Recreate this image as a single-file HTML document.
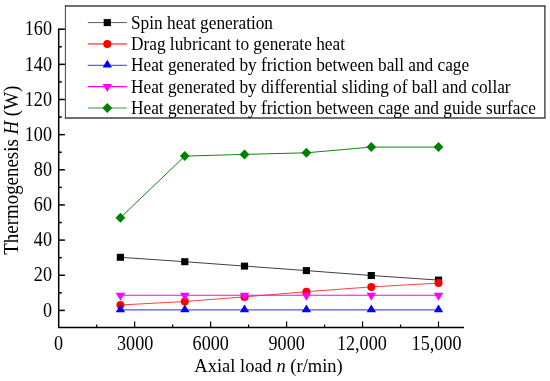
<!DOCTYPE html>
<html><head><meta charset="utf-8"><title>Chart</title>
<style>
html,body{margin:0;padding:0;background:#fff;}
svg{display:block;}
text{font-family:"Liberation Serif","Times New Roman",serif;fill:#000;}
.t{font-size:18.15px;}
.l{font-size:17.3px;}
.y{font-size:18.9px;}
.x{font-size:18.5px;}
</style></head><body>
<svg width="550" height="381" viewBox="0 0 550 381">
<rect width="550" height="381" fill="#fff"/>

<g stroke="#000" stroke-width="1.5" fill="none">
<path d="M58.7,28.45 V327.6 H464"/>
<path d="M58.7,310.40 h6.2"/>
<path d="M58.7,275.25 h6.2"/>
<path d="M58.7,240.10 h6.2"/>
<path d="M58.7,204.95 h6.2"/>
<path d="M58.7,169.80 h6.2"/>
<path d="M58.7,134.65 h6.2"/>
<path d="M58.7,99.50 h6.2"/>
<path d="M58.7,64.35 h6.2"/>
<path d="M58.7,29.20 h6.2"/>
<path d="M58.7,292.82 h3.1"/>
<path d="M58.7,257.67 h3.1"/>
<path d="M58.7,222.52 h3.1"/>
<path d="M58.7,187.38 h3.1"/>
<path d="M58.7,152.22 h3.1"/>
<path d="M58.7,117.07 h3.1"/>
<path d="M58.7,81.93 h3.1"/>
<path d="M58.7,46.77 h3.1"/>
<path d="M134.66,327.6 v-6.1" stroke-width="1.2"/>
<path d="M210.62,327.6 v-6.1" stroke-width="1.2"/>
<path d="M286.58,327.6 v-6.1" stroke-width="1.2"/>
<path d="M362.54,327.6 v-6.1" stroke-width="1.2"/>
<path d="M438.50,327.6 v-6.1" stroke-width="1.2"/>
<path d="M96.68,327.6 v-3.1" stroke-width="1.2"/>
<path d="M172.64,327.6 v-3.1" stroke-width="1.2"/>
<path d="M248.60,327.6 v-3.1" stroke-width="1.2"/>
<path d="M324.56,327.6 v-3.1" stroke-width="1.2"/>
<path d="M400.52,327.6 v-3.1" stroke-width="1.2"/>
</g>
<text class="t" transform="translate(52.00,316.60) scale(1,1.115)" text-anchor="end">0</text>
<text class="t" transform="translate(52.00,281.45) scale(1,1.115)" text-anchor="end">20</text>
<text class="t" transform="translate(52.00,246.30) scale(1,1.115)" text-anchor="end">40</text>
<text class="t" transform="translate(52.00,211.15) scale(1,1.115)" text-anchor="end">60</text>
<text class="t" transform="translate(52.00,176.00) scale(1,1.115)" text-anchor="end">80</text>
<text class="t" transform="translate(52.00,140.85) scale(1,1.115)" text-anchor="end">100</text>
<text class="t" transform="translate(52.00,105.70) scale(1,1.115)" text-anchor="end">120</text>
<text class="t" transform="translate(52.00,70.55) scale(1,1.115)" text-anchor="end">140</text>
<text class="t" transform="translate(52.00,35.40) scale(1,1.115)" text-anchor="end">160</text>
<text class="t" transform="translate(58.50,350.30) scale(1,1.115)" text-anchor="middle">0</text>
<text class="t" transform="translate(135.16,350.30) scale(1,1.115)" text-anchor="middle">3000</text>
<text class="t" transform="translate(210.72,350.30) scale(1,1.115)" text-anchor="middle">6000</text>
<text class="t" transform="translate(286.68,350.30) scale(1,1.115)" text-anchor="middle">9000</text>
<text class="t" transform="translate(361.84,350.30) scale(1,1.115)" text-anchor="middle">12,000</text>
<text class="t" transform="translate(436.50,350.30) scale(1,1.115)" text-anchor="middle">15,000</text>
<text class="x" transform="translate(268.50,372.00) scale(1,1.03)" text-anchor="middle">Axial load <tspan font-style="italic">n</tspan> (r/min)</text>
<text class="y" transform="translate(17.6,170.2) rotate(-90) scale(1,1.06)" text-anchor="middle">Thermogenesis <tspan font-style="italic">H</tspan> (W)</text>
<polyline points="120.40,257.30 184.80,261.70 244.50,266.10 306.40,270.60 371.30,275.50 438.50,280.10" fill="none" stroke="#000" stroke-width="0.75"/>
<rect x="116.80" y="253.80" width="7.2" height="7.0" fill="#000"/>
<rect x="181.20" y="258.20" width="7.2" height="7.0" fill="#000"/>
<rect x="240.90" y="262.60" width="7.2" height="7.0" fill="#000"/>
<rect x="302.80" y="267.10" width="7.2" height="7.0" fill="#000"/>
<rect x="367.70" y="272.00" width="7.2" height="7.0" fill="#000"/>
<rect x="434.90" y="276.60" width="7.2" height="7.0" fill="#000"/>
<polyline points="120.40,305.00 184.80,301.50 244.50,296.90 306.40,291.70 371.30,286.90 438.50,283.10" fill="none" stroke="#f00" stroke-width="0.75"/>
<circle cx="120.40" cy="305.00" r="4.0" fill="#f00"/>
<circle cx="184.80" cy="301.50" r="4.0" fill="#f00"/>
<circle cx="244.50" cy="296.90" r="4.0" fill="#f00"/>
<circle cx="306.40" cy="291.70" r="4.0" fill="#f00"/>
<circle cx="371.30" cy="286.90" r="4.0" fill="#f00"/>
<circle cx="438.50" cy="283.10" r="4.0" fill="#f00"/>
<polyline points="120.40,309.90 184.80,309.90 244.50,309.90 306.40,309.90 371.30,309.90 438.50,309.90" fill="none" stroke="#00f" stroke-width="0.85"/>
<polygon points="120.40,304.40 125.10,312.20 115.70,312.20" fill="#00f"/>
<polygon points="184.80,304.40 189.50,312.20 180.10,312.20" fill="#00f"/>
<polygon points="244.50,304.40 249.20,312.20 239.80,312.20" fill="#00f"/>
<polygon points="306.40,304.40 311.10,312.20 301.70,312.20" fill="#00f"/>
<polygon points="371.30,304.40 376.00,312.20 366.60,312.20" fill="#00f"/>
<polygon points="438.50,304.40 443.20,312.20 433.80,312.20" fill="#00f"/>
<polyline points="120.40,295.30 184.80,295.30 244.50,295.30 306.40,295.30 371.30,295.30 438.50,295.30" fill="none" stroke="#f0f" stroke-width="1.1"/>
<polygon points="120.40,300.70 125.15,292.70 115.65,292.70" fill="#f0f"/>
<polygon points="184.80,300.70 189.55,292.70 180.05,292.70" fill="#f0f"/>
<polygon points="244.50,300.70 249.25,292.70 239.75,292.70" fill="#f0f"/>
<polygon points="306.40,300.70 311.15,292.70 301.65,292.70" fill="#f0f"/>
<polygon points="371.30,300.70 376.05,292.70 366.55,292.70" fill="#f0f"/>
<polygon points="438.50,300.70 443.25,292.70 433.75,292.70" fill="#f0f"/>
<polyline points="120.40,217.70 184.80,156.10 244.50,154.40 306.40,152.80 371.30,147.10 438.50,147.10" fill="none" stroke="#008000" stroke-width="0.95"/>
<polygon points="120.40,212.70 125.30,217.70 120.40,222.70 115.50,217.70" fill="#008000"/>
<polygon points="184.80,151.10 189.70,156.10 184.80,161.10 179.90,156.10" fill="#008000"/>
<polygon points="244.50,149.40 249.40,154.40 244.50,159.40 239.60,154.40" fill="#008000"/>
<polygon points="306.40,147.80 311.30,152.80 306.40,157.80 301.50,152.80" fill="#008000"/>
<polygon points="371.30,142.10 376.20,147.10 371.30,152.10 366.40,147.10" fill="#008000"/>
<polygon points="438.50,142.10 443.40,147.10 438.50,152.10 433.60,147.10" fill="#008000"/>
<rect x="65.4" y="5.9" width="479.5" height="112.2" fill="#fff"/>
<g stroke="#404040" fill="none"><path d="M65.4,5.15 V118.85" stroke-width="1"/><path d="M64.9,5.9 H545.6" stroke-width="1.5"/><path d="M64.9,118.1 H545.6" stroke-width="1.5"/><path d="M544.9,5.9 V118.1" stroke-width="1.4"/></g>
<path d="M87.8,22.60 H126.8" stroke="#000" stroke-width="0.65"/>
<rect x="103.70" y="19.10" width="7.2" height="7.0" fill="#000"/>
<text class="l" transform="translate(131.00,28.70) scale(1,1.04)" text-anchor="start">Spin heat generation</text>
<path d="M87.8,43.95 H126.8" stroke="#f00" stroke-width="1.0"/>
<circle cx="107.30" cy="43.95" r="4.0" fill="#f00"/>
<text class="l" transform="translate(131.00,50.05) scale(1,1.04)" text-anchor="start">Drag lubricant to generate heat</text>
<path d="M87.8,65.30 H126.8" stroke="#00f" stroke-width="0.8"/>
<polygon points="107.30,59.80 112.00,67.60 102.60,67.60" fill="#00f"/>
<text class="l" transform="translate(131.00,71.40) scale(1,1.04)" text-anchor="start">Heat generated by friction between ball and cage</text>
<path d="M87.8,86.65 H126.8" stroke="#f0f" stroke-width="1.2"/>
<polygon points="107.30,92.05 112.05,84.05 102.55,84.05" fill="#f0f"/>
<text class="l" transform="translate(131.00,92.75) scale(1,1.04)" text-anchor="start">Heat generated by differential sliding of ball and collar</text>
<path d="M87.8,108.00 H126.8" stroke="#008000" stroke-width="0.8"/>
<polygon points="107.30,103.00 112.20,108.00 107.30,113.00 102.40,108.00" fill="#008000"/>
<text class="l" transform="translate(131.00,114.10) scale(1,1.04)" text-anchor="start">Heat generated by friction between cage and guide surface</text>
</svg>
</body></html>
